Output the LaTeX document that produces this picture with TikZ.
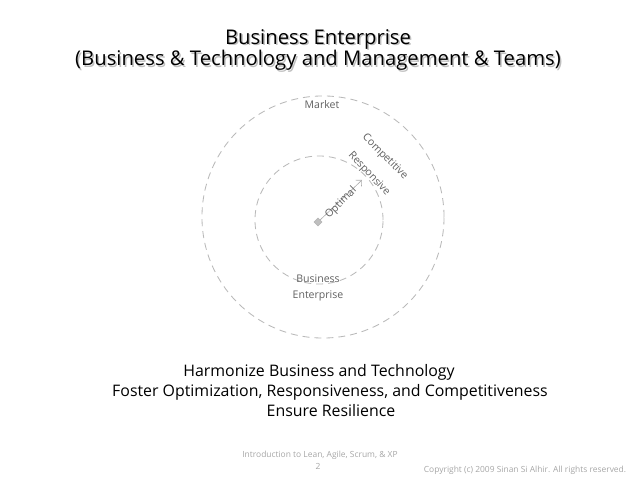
\documentclass[tikz,border=0pt]{standalone}
\usepackage{fontspec}
\setmainfont{Open Sans}
\usetikzlibrary{positioning,arrows.meta}
\tikzset{
  ring/.style={circle, draw=gray!55, dash pattern=on 5pt off 3.5pt, line width=0.6pt, inner sep=0pt, outer sep=0pt},
  ringLabel/.style={text=gray!75!black, font={\fontsize{7.5}{11}\selectfont}, inner sep=1pt},
  core/.style={rectangle, draw=gray!60, fill=gray!50, minimum size=4pt, inner sep=0pt, rotate=45},
  goal/.style={font={\fontsize{11.3}{12}\selectfont}},
  titleText/.style={align=center, font={\fontsize{14.4}{14.2}\selectfont}},
  footer/.style={text=gray!70, font={\fontsize{6}{7}\selectfont}, inner sep=0pt},
  applyOp/.style={-{Straight Barb[length=3pt,width=6pt]}, draw=gray!65, line width=0.45pt}
}
\begin{document}
\begin{tikzpicture}[x=0.025cm, y=-0.025cm]
  \useasboundingbox (0,0) rectangle (638,478);

  % title with its shadow
  \node[titleText, text=gray!50] (titleShadow) at (319.5,51.5) {Business Enterprise\\(Business \& Technology and Management \& Teams)};
  \node[titleText] (title) at (318,50) {Business Enterprise\\(Business \& Technology and Management \& Teams)};

  % rings
  \node[ring, minimum size=6.05cm] (market) at (323,217) {};
  \node[ring, minimum size=3.2cm] (enterprise) at (319,220) {};
  \node[ringLabel] (marketLbl) at (322,105) {Market};
  \node[ringLabel, align=center] (enterpriseLbl) at (318,288) {Business\\Enterprise};

  % center and direction
  \node[core] (center) at (318,222) {};
  \coordinate (tip) at (362,180);
  \draw[applyOp] (center) -- (tip);
  \node[ringLabel, rotate=45] (optimalLbl) at (341,203) {Optimal};
  \node[ringLabel, rotate=-47] (responsiveLbl) at (369,174) {Responsive};
  \node[ringLabel, rotate=-45] (competitiveLbl) at (385,157) {Competitive};

  % goals
  \node[goal] (harmonize) at (319,372) {Harmonize Business and Technology};
  \node[goal] (foster) at (330,392) {Foster Optimization, Responsiveness, and Competitiveness};
  \node[goal] (ensure) at (331,411) {Ensure Resilience};

  % footer
  \node[footer] (course) at (320,455) {Introduction to Lean, Agile, Scrum, \& XP};
  \node[footer] (page) at (318,466) {2};
  \node[footer] (copyright) at (525,470) {Copyright (c) 2009 Sinan Si Alhir. All rights reserved.};
\end{tikzpicture}
\end{document}
